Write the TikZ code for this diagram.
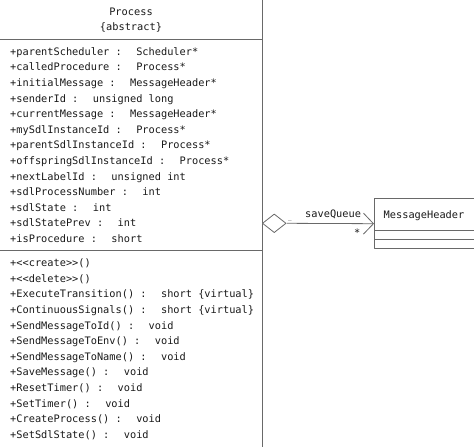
\documentclass[tikz,border=0pt]{standalone}
\usepackage{fontspec}
\setmainfont{DejaVu Sans Mono}
\usepackage{tikz}
\usetikzlibrary{arrows.meta, shapes, positioning}
\usepackage{xcolor}
\definecolor{umlgray}{RGB}{105,105,105}
\definecolor{umltext}{RGB}{25,25,25}
\tikzset{umlbox/.style={draw=umlgray, line width=0.8pt},umlrow/.style={anchor=base west, inner sep=0pt, text=umltext, font=\fontsize{10.3pt}{12pt}\selectfont}}

\begin{document}
\begin{tikzpicture}[
        x=1pt, y=-1pt,
        line join=bevel,
        umltitle/.style={umlrow, anchor=base},
        aggdiamond/.style={diamond, umlbox, fill=white, minimum width=23.7pt, minimum height=18.7pt, inner sep=0pt},
    ]
        \useasboundingbox (0, 0) rectangle (474, 447);
        \clip (0, 0) rectangle (474, 447);
        % Class Process
        \draw[umlbox] (-1, -10) rectangle (262, 460);
        \draw[umlbox] (-1, 39.5) -- (262, 39.5);
        \draw[umlbox] (-1, 250) -- (262, 250);
        \node[umltitle] (procname) at (131, 15) {Process};
        \node[umltitle] (procabstract) at (131, 30) {\{abstract\}};
        % Attributes
        \foreach \i/\txt in {
            0/+parentScheduler :~ Scheduler*,
            1/+calledProcedure :~ Process*,
            2/+initialMessage :~ MessageHeader*,
            3/+senderId :~ unsigned long,
            4/+currentMessage :~ MessageHeader*,
            5/+mySdlInstanceId :~ Process*,
            6/+parentSdlInstanceId :~ Process*,
            7/+offspringSdlInstanceId :~ Process*,
            8/+nextLabelId :~ unsigned int,
            9/+sdlProcessNumber :~ int,
            10/+sdlState :~ int,
            11/+sdlStatePrev :~ int,
            12/+isProcedure :~ short} {
            \node[umlrow] (attr\i) at (10, 55.2 + \i*15.6) {\txt};
        }
        % Operations
        \foreach \i/\txt in {
            0/+<{}<create>{}>(),
            1/+<{}<delete>{}>(),
            2/+ExecuteTransition() :~ short \{virtual\},
            3/+ContinuousSignals() :~ short \{virtual\},
            4/+SendMessageToId() :~ void,
            5/+SendMessageToEnv() :~ void,
            6/+SendMessageToName() :~ void,
            7/+SaveMessage() :~ void,
            8/+ResetTimer() :~ void,
            9/+SetTimer() :~ void,
            10/+CreateProcess() :~ void,
            11/+SetSdlState() :~ void} {
            \node[umlrow] (op\i) at (10, 266.7 + \i*15.6) {\txt};
        }
        % Class MessageHeader
        \node[umlbox, anchor=north west, minimum width=130pt, minimum height=50pt, inner sep=0pt] (msgbox) at (374, 198.3) {};
        \draw[umlbox] (374, 230) -- (480, 230);
        \draw[umlbox] (374, 239.3) -- (480, 239.3);
        \node[umlrow] (msgname) at (383.5, 218.3) {MessageHeader};
        % Aggregation
        \node[aggdiamond, anchor=west] (agg) at (262, 223.3) {};
        \draw[umlbox, -{Straight Barb[length=10pt, width=21pt]}] (agg.east) -- (msgbox.west);
        \node[umlrow] (rolename) at (305, 217.3) {saveQueue};
        \node[umlrow] (multmany) at (354, 236.5) {*};
        \node[umlrow, font=\fontsize{6pt}{7pt}\selectfont] (multagg) at (288, 219) {\_};
    \end{tikzpicture}
\end{document}
